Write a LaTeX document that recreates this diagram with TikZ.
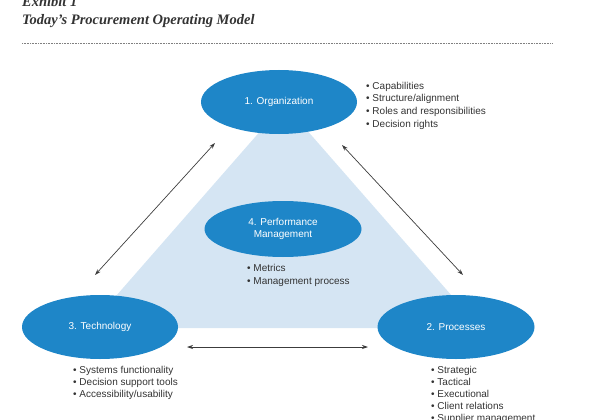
\documentclass[tikz,border=0pt]{standalone}
\usepackage{fontspec}
\setmainfont{Liberation Serif}
\setsansfont{Liberation Sans}
\usetikzlibrary{shapes.geometric,arrows.meta}
\definecolor{ellblue}{RGB}{30,134,200}
\definecolor{lightblue}{RGB}{213,229,243}
\definecolor{txtgray}{RGB}{51,51,51}
\definecolor{arrgray}{RGB}{60,60,60}
\tikzset{
  ell/.style={ellipse, fill=ellblue, draw=none, inner sep=0pt, text=white,
    font=\sffamily\fontsize{10}{12.5}\selectfont, align=center},
  bul/.style={anchor=base west, inner sep=0pt, text=txtgray,
    font=\sffamily\fontsize{10}{12}\selectfont},
  arr/.style={draw=arrgray, line width=0.7pt,
    {Stealth[length=6pt,width=4pt]}-{Stealth[length=6pt,width=4pt]}},
  ttl/.style={anchor=base west, inner sep=0pt, text=txtgray,
    font=\rmfamily\bfseries\itshape\fontsize{14.5}{16}\selectfont}
}
\begin{document}
\begin{tikzpicture}[x=1pt,y=-1pt]
\useasboundingbox (0,0) rectangle (589,420);
% title
\node[ttl] (exh) at (22,7) {Exhibit 1};
\node[ttl] (title) at (22,25) {Today’s Procurement Operating Model};
\coordinate (dl) at (22,43);
\coordinate (dr) at (553,43);
\draw[gray, line width=0.6pt, dash pattern=on 0.8pt off 0.8pt] (dl) -- (dr);
% background triangle
\fill[lightblue] (284,104) -- (88,328) -- (480,328) -- cycle;
% ellipses
\node[ell, minimum width=156pt, minimum height=64pt] (org) at (279,102) {1. Organization};
\node[ell, minimum width=156pt, minimum height=64pt] (tech) at (100,327) {3. Technology};
\node[ell, minimum width=157pt, minimum height=64pt] (proc) at (456,327) {2. Processes};
\node[ell, minimum width=157pt, minimum height=56pt] (perf) at (283,229) {4. Performance\\Management};
% bullet lists
\node[bul] (o1) at (366,89.5) {• Capabilities};
\node[bul] (o2) at (366,102) {• Structure/alignment};
\node[bul] (o3) at (366,114.5) {• Roles and responsibilities};
\node[bul] (o4) at (366,127) {• Decision rights};
\node[bul] (m1) at (247,271.5) {• Metrics};
\node[bul] (m2) at (247,284.5) {• Management process};
\node[bul] (t1) at (73,373.5) {• Systems functionality};
\node[bul] (t2) at (73,385.5) {• Decision support tools};
\node[bul] (t3) at (73,397.5) {• Accessibility/usability};
\node[bul] (p1) at (431,373.5) {• Strategic};
\node[bul] (p2) at (431,385.5) {• Tactical};
\node[bul] (p3) at (431,397.5) {• Executional};
\node[bul] (p4) at (431,409.5) {• Client relations};
\node[bul] (p5) at (431,421.5) {• Supplier management};
% arrows
\coordinate (al1) at (215,143);
\coordinate (al2) at (95,275);
\coordinate (ar1) at (342,145);
\coordinate (ar2) at (463,275);
\coordinate (ab1) at (187,347);
\coordinate (ab2) at (368,347);
\draw[arr] (al1) -- (al2);
\draw[arr] (ar1) -- (ar2);
\draw[arr] (ab1) -- (ab2);
\end{tikzpicture}
\end{document}
